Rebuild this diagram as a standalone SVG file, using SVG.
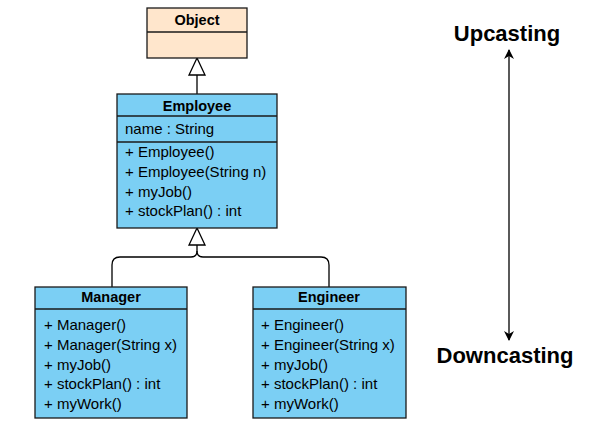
<svg xmlns="http://www.w3.org/2000/svg" width="599" height="431" viewBox="0 0 599 431">
<defs>
<style>
.box{stroke:#1a1a1a;stroke-width:1.3}
.blue{fill:#7BCFF4}
.peach{fill:#FFE6CC}
.div{stroke:#1a1a1a;stroke-width:1.3}
.hd{font-family:"Liberation Sans",Arial,sans-serif;font-size:14.5px;font-weight:bold;text-anchor:middle;fill:#000}
.tx{font-family:"Liberation Sans",Arial,sans-serif;font-size:15px;fill:#000}
.big{font-family:"Liberation Sans",Arial,sans-serif;font-size:22px;font-weight:bold;text-anchor:middle;fill:#000}
.ln{fill:none;stroke:#000;stroke-width:1.3}
.tri{fill:#fff;stroke:#000;stroke-width:1.3}
</style>
<marker id="ah" viewBox="0 0 10 10" refX="9" refY="5" markerWidth="10" markerHeight="10" markerUnits="userSpaceOnUse" orient="auto-start-reverse">
<path d="M0,0 L10,5 L0,10 L3,5 Z" fill="#000"/>
</marker>
</defs>
<rect width="599" height="431" fill="#fff"/>
<g id="connectors">
<path class="ln" d="M197,94 L197,75"/>
<path class="tri" d="M197,58 L205,75 L189,75 Z"/>
<path class="ln" d="M112,287 L112,265 Q112,257 120,257 L191,257 Q197,257 197,251 L197,245"/>
<path class="ln" d="M329,287 L329,265 Q329,257 321,257 L203,257 Q197,257 197,251"/>
<path class="tri" d="M197,228 L205,245 L189,245 Z"/>
<path class="ln" d="M509,340 L509,50" marker-start="url(#ah)" marker-end="url(#ah)"/>
</g>
<g id="object">
<rect class="box peach" x="147" y="8" width="100" height="50"/>
<line class="div" x1="147" y1="32" x2="247" y2="32"/>
<text class="hd" x="197" y="25">Object</text>
</g>
<g id="employee">
<rect class="box blue" x="117" y="94" width="160" height="134"/>
<line class="div" x1="117" y1="116" x2="277" y2="116"/>
<line class="div" x1="117" y1="142" x2="277" y2="142"/>
<text class="hd" x="197" y="111">Employee</text>
<text class="tx" x="125" y="134">name : String</text>
<text class="tx" x="125" y="157">+ Employee()</text>
<text class="tx" x="125" y="177">+ Employee(String n)</text>
<text class="tx" x="125" y="197">+ myJob()</text>
<text class="tx" x="125" y="216">+ stockPlan() : int</text>
</g>
<g id="manager">
<rect class="box blue" x="35" y="287" width="152" height="131"/>
<line class="div" x1="35" y1="309" x2="187" y2="309"/>
<text class="hd" x="111" y="302">Manager</text>
<text class="tx" x="44" y="330">+ Manager()</text>
<text class="tx" x="44" y="350">+ Manager(String x)</text>
<text class="tx" x="44" y="370">+ myJob()</text>
<text class="tx" x="44" y="389">+ stockPlan() : int</text>
<text class="tx" x="44" y="409">+ myWork()</text>
</g>
<g id="engineer">
<rect class="box blue" x="253" y="287" width="153" height="131"/>
<line class="div" x1="253" y1="309" x2="406" y2="309"/>
<text class="hd" x="329" y="302">Engineer</text>
<text class="tx" x="261" y="330">+ Engineer()</text>
<text class="tx" x="261" y="350">+ Engineer(String x)</text>
<text class="tx" x="261" y="370">+ myJob()</text>
<text class="tx" x="261" y="389">+ stockPlan() : int</text>
<text class="tx" x="261" y="409">+ myWork()</text>
</g>
<g id="upcasting">
<text class="big" x="507" y="41">Upcasting</text>
</g>
<g id="downcasting">
<text class="big" x="505" y="363">Downcasting</text>
</g>
</svg>
